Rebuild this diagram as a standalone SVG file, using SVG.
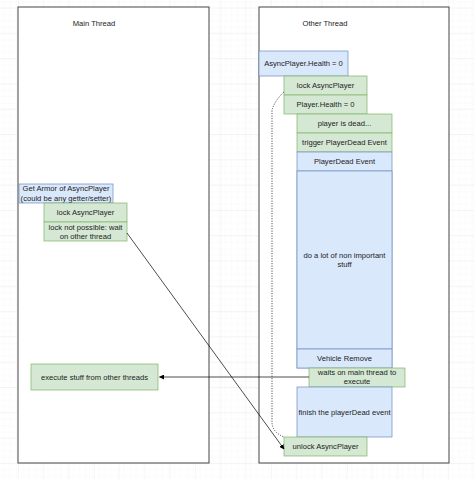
<svg xmlns="http://www.w3.org/2000/svg" width="474" height="479" viewBox="0 0 474 479">
<defs>
<pattern id="minor" x="18" y="7.5" width="6.33" height="6.33" patternUnits="userSpaceOnUse">
<path d="M6.33 0V6.33M0 6.33H6.33" fill="none" stroke="#f4f4f4" stroke-width="0.6"/>
</pattern>
<pattern id="major" x="18" y="7.5" width="25.3" height="25.3" patternUnits="userSpaceOnUse">
<rect width="25.3" height="25.3" fill="url(#minor)"/>
<path d="M0 0V25.3M0 0H25.3" fill="none" stroke="#e8e8e8" stroke-width="0.7"/>
</pattern>
<marker id="arr" viewBox="0 0 10 10" refX="9" refY="5" markerWidth="5" markerHeight="5" orient="auto" markerUnits="userSpaceOnUse">
<path d="M0 0L10 5L0 10Z" fill="#000"/>
</marker>
</defs>
<style>
text{font-family:"Liberation Sans",Arial,sans-serif;font-size:7.6px;fill:#222;text-anchor:middle}
.lane{fill:#fff;stroke:#555;stroke-width:1.1}
.b{fill:#dae8fc;stroke:#6c8ebf;stroke-width:0.7}
.g{fill:#d5e8d4;stroke:#82b366;stroke-width:0.7}
.edge{fill:none;stroke:#000;stroke-width:0.7}
</style>
<rect width="474" height="479" fill="#fff"/>
<rect width="474" height="479" fill="url(#major)"/>
<g id="main-thread"><rect class="lane" x="18" y="7" width="191" height="456"/><text x="94" y="25.7">Main Thread</text></g>
<g id="other-thread"><rect class="lane" x="259" y="7" width="190" height="456"/><text x="325" y="25.7">Other Thread</text></g>
<g id="asyncplayer-health"><rect class="b" x="259" y="51" width="89" height="25"/><text x="303.5" y="66.2">AsyncPlayer.Health = 0</text></g>
<g id="lock-asyncplayer-other"><rect class="g" x="284" y="76" width="83" height="19"/><text x="325.5" y="88.2">lock AsyncPlayer</text></g>
<g id="player-health"><rect class="g" x="284" y="95" width="83" height="19"/><text x="325.5" y="107.2">Player.Health = 0</text></g>
<g id="player-dead"><rect class="g" x="297" y="114" width="95" height="19"/><text x="344.5" y="126.2">player is dead...</text></g>
<g id="trigger-event"><rect class="g" x="297" y="133" width="95" height="19"/><text x="344.5" y="145.2">trigger PlayerDead Event</text></g>
<g id="playerdead-event"><rect class="b" x="297" y="152" width="95" height="216"/><line x1="297" y1="171" x2="392" y2="171" stroke="#6c8ebf" stroke-width="0.7"/><text x="344.5" y="164.2">PlayerDead Event</text></g>
<g id="non-important"><rect class="b" x="297" y="171" width="95" height="178"/><text x="344.5" y="258.4">do a lot of non important</text><text x="344.5" y="267.4">stuff</text></g>
<g id="vehicle-remove"><rect class="b" x="297" y="349" width="95" height="19"/><text x="344.5" y="361.2">Vehicle Remove</text></g>
<g id="waits-main"><rect class="g" x="309" y="368" width="96" height="19"/><text x="357" y="375">waits on main thread to</text><text x="357" y="384.4">execute</text></g>
<g id="finish-event"><rect class="b" x="297" y="387" width="95" height="50"/><text x="344.5" y="414.7">finish the playerDead event</text></g>
<g id="unlock-asyncplayer"><rect class="g" x="284" y="437" width="83" height="19"/><text x="325.5" y="449.2">unlock AsyncPlayer</text></g>
<g id="get-armor"><rect class="b" x="19" y="184" width="94" height="19"/><text x="66" y="191.4">Get Armor of AsyncPlayer</text><text x="66" y="201">(could be any getter/setter)</text></g>
<g id="lock-asyncplayer-main"><rect class="g" x="44" y="203" width="83" height="19"/><text x="85.5" y="215.2">lock AsyncPlayer</text></g>
<g id="lock-not-possible"><rect class="g" x="44" y="222" width="83" height="19"/><text x="85.5" y="229.7">lock not possible: wait</text><text x="85.5" y="239">on other thread</text></g>
<g id="execute-stuff"><rect class="g" x="31" y="364" width="127" height="26"/><text x="94.5" y="379.7">execute stuff from other threads</text></g>
<g id="connectors">
<path class="edge" d="M309 377H159.5" marker-end="url(#arr)"/>
<path class="edge" d="M127 233L284 449" marker-end="url(#arr)"/>
<path d="M284 92Q275 100 272 110V422Q272 432 284 437" fill="none" stroke="#222" stroke-width="0.9" stroke-dasharray="1 1.5"/>
</g>
</svg>
